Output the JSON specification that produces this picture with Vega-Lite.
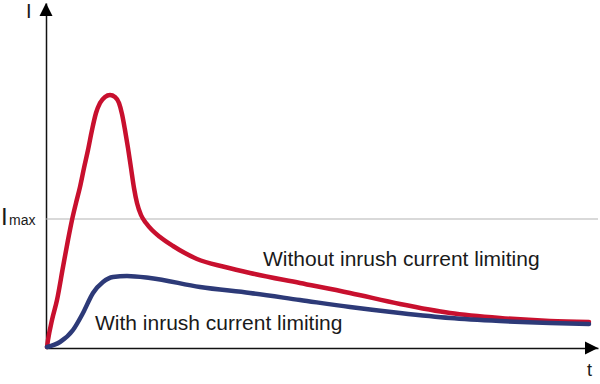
{
  "$schema": "https://vega.github.io/schema/vega-lite/v6.json",
  "width": 552,
  "height": 345,
  "autosize": {"type": "none"},
  "padding": {"left": 46, "top": 3, "right": 2, "bottom": 36},
  "background": "white",
  "config": {"view": {"stroke": null}, "text": {"font": "Liberation Sans", "color": "#1a1a1a"}},
  "datasets": {
    "curves": [
      {"series": "Without", "t": 1, "i": 1}, {"series": "Without", "t": 2, "i": 8}, {"series": "Without", "t": 6, "i": 28},
      {"series": "Without", "t": 11, "i": 48}, {"series": "Without", "t": 17, "i": 81}, {"series": "Without", "t": 22, "i": 108},
      {"series": "Without", "t": 26, "i": 128}, {"series": "Without", "t": 30, "i": 145}, {"series": "Without", "t": 34, "i": 161},
      {"series": "Without", "t": 38, "i": 180}, {"series": "Without", "t": 42, "i": 198}, {"series": "Without", "t": 46, "i": 218},
      {"series": "Without", "t": 50, "i": 235}, {"series": "Without", "t": 54, "i": 245}, {"series": "Without", "t": 59, "i": 251},
      {"series": "Without", "t": 64, "i": 253}, {"series": "Without", "t": 69, "i": 251}, {"series": "Without", "t": 73, "i": 245},
      {"series": "Without", "t": 76, "i": 234}, {"series": "Without", "t": 79, "i": 218}, {"series": "Without", "t": 82, "i": 200},
      {"series": "Without", "t": 85, "i": 180}, {"series": "Without", "t": 88, "i": 160}, {"series": "Without", "t": 91, "i": 145},
      {"series": "Without", "t": 95, "i": 133}, {"series": "Without", "t": 100, "i": 125}, {"series": "Without", "t": 106, "i": 118},
      {"series": "Without", "t": 114, "i": 111}, {"series": "Without", "t": 127, "i": 102}, {"series": "Without", "t": 151, "i": 89},
      {"series": "Without", "t": 179, "i": 81}, {"series": "Without", "t": 204, "i": 75}, {"series": "Without", "t": 254, "i": 65},
      {"series": "Without", "t": 304, "i": 55}, {"series": "Without", "t": 354, "i": 44}, {"series": "Without", "t": 404, "i": 35},
      {"series": "Without", "t": 454, "i": 30}, {"series": "Without", "t": 504, "i": 27}, {"series": "Without", "t": 543, "i": 26},
      {"series": "With", "t": 1, "i": 1}, {"series": "With", "t": 14, "i": 6}, {"series": "With", "t": 27, "i": 18},
      {"series": "With", "t": 37, "i": 35}, {"series": "With", "t": 47, "i": 55}, {"series": "With", "t": 57, "i": 66},
      {"series": "With", "t": 67, "i": 71}, {"series": "With", "t": 81, "i": 72}, {"series": "With", "t": 104, "i": 70},
      {"series": "With", "t": 154, "i": 61}, {"series": "With", "t": 204, "i": 55}, {"series": "With", "t": 254, "i": 48},
      {"series": "With", "t": 304, "i": 41}, {"series": "With", "t": 354, "i": 35}, {"series": "With", "t": 404, "i": 30},
      {"series": "With", "t": 454, "i": 27}, {"series": "With", "t": 504, "i": 25}, {"series": "With", "t": 543, "i": 24}
    ]
  },
  "layer": [
    {
      "data": {"values": [{"level": 129}]},
      "mark": {"type": "rule", "color": "#b3b3b3", "strokeWidth": 1},
      "encoding": {"y": {"field": "level", "type": "quantitative", "scale": {"domain": [0, 345], "nice": false, "zero": false},
        "axis": {"domain": true, "domainColor": "#111111", "domainWidth": 1.5, "ticks": false, "labels": false, "grid": false, "title": null}}}
    },
    {
      "data": {"name": "curves"},
      "mark": {"type": "line", "interpolate": "monotone", "strokeWidth": 4.5, "strokeCap": "round"},
      "encoding": {
        "x": {"field": "t", "type": "quantitative", "scale": {"domain": [0, 552], "nice": false, "zero": false},
          "axis": {"domain": true, "domainColor": "#111111", "domainWidth": 1.5, "ticks": false, "labels": false, "grid": false, "title": null}},
        "y": {"field": "i", "type": "quantitative"},
        "color": {"field": "series", "type": "nominal", "scale": {"domain": ["Without", "With"], "range": ["#c8102e", "#2d3a78"]}, "legend": null},
        "order": {"field": "t", "type": "quantitative"}
      }
    },
    {
      "data": {"values": [{"t": 552, "i": 0}]},
      "mark": {"type": "point", "shape": "M0,0L-1,-0.5L-1,0.5Z", "size": 676, "filled": true, "color": "#000000", "opacity": 1},
      "encoding": {"x": {"field": "t", "type": "quantitative"}, "y": {"field": "i", "type": "quantitative"}}
    },
    {
      "data": {"values": [{"t": 0, "i": 345}]},
      "mark": {"type": "point", "shape": "M0,0L-0.5,1L0.5,1Z", "size": 676, "filled": true, "color": "#000000", "opacity": 1},
      "encoding": {"x": {"field": "t", "type": "quantitative"}, "y": {"field": "i", "type": "quantitative"}}
    },
    {
      "data": {"values": [{"t": 217, "i": 82, "label": "Without inrush current limiting"}, {"t": 49, "i": 18, "label": "With inrush current limiting"}]},
      "mark": {"type": "text", "fontSize": 21, "align": "left", "baseline": "alphabetic"},
      "encoding": {"x": {"field": "t", "type": "quantitative"}, "y": {"field": "i", "type": "quantitative"}, "text": {"field": "label"}}
    },
    {
      "data": {"values": [{"t": -20, "i": 330, "label": "I"}]},
      "mark": {"type": "text", "fontSize": 20, "align": "left", "baseline": "alphabetic"},
      "encoding": {"x": {"field": "t", "type": "quantitative"}, "y": {"field": "i", "type": "quantitative"}, "text": {"field": "label"}}
    },
    {
      "data": {"values": [{"t": 541, "i": -28, "label": "t"}]},
      "mark": {"type": "text", "fontSize": 18, "align": "left", "baseline": "alphabetic"},
      "encoding": {"x": {"field": "t", "type": "quantitative"}, "y": {"field": "i", "type": "quantitative"}, "text": {"field": "label"}}
    },
    {
      "data": {"values": [{"t": -45, "i": 123, "label": "I"}]},
      "mark": {"type": "text", "fontSize": 24, "align": "left", "baseline": "alphabetic"},
      "encoding": {"x": {"field": "t", "type": "quantitative"}, "y": {"field": "i", "type": "quantitative"}, "text": {"field": "label"}}
    },
    {
      "data": {"values": [{"t": -37, "i": 123, "label": "max"}]},
      "mark": {"type": "text", "fontSize": 14, "align": "left", "baseline": "alphabetic"},
      "encoding": {"x": {"field": "t", "type": "quantitative"}, "y": {"field": "i", "type": "quantitative"}, "text": {"field": "label"}}
    }
  ]
}
